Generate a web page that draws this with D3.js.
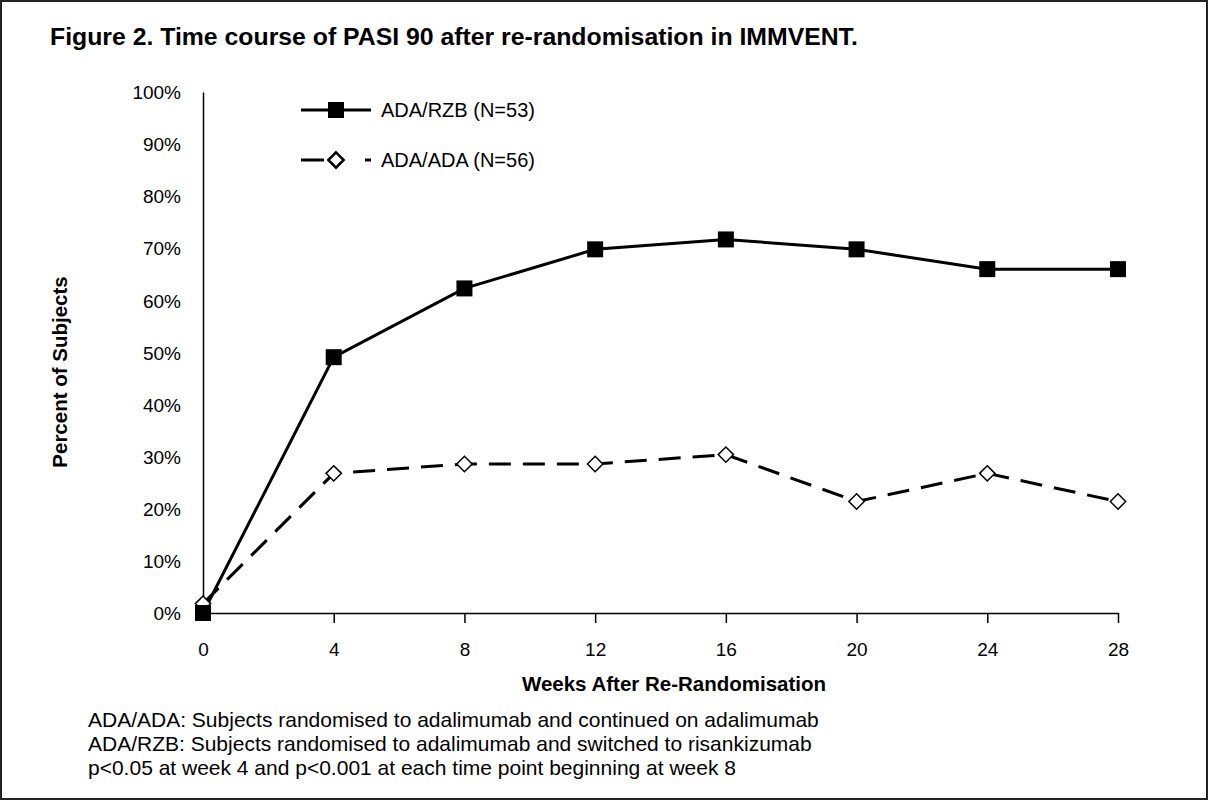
<!DOCTYPE html>
<html>
<head>
<meta charset="utf-8">
<script src="https://cdn.jsdelivr.net/npm/d3@7"></script>
<style>
  body { margin: 0; background: #fff; }
  text { font-family: "Liberation Sans", Arial, Helvetica, sans-serif; fill: #000; }
</style>
</head>
<body>
<div id="chart"></div>
<script>
// data
let weeks = [0, 4, 8, 12, 16, 20, 24, 28]
let rzbValues = [0, 49.1, 62.3, 69.8, 71.7, 69.8, 66.0, 66.0]
let adaValues = [1.8, 26.8, 28.6, 28.6, 30.4, 21.4, 26.8, 21.4]
let yTicks = [0, 10, 20, 30, 40, 50, 60, 70, 80, 90, 100]
let seriesNames = ["ADA/RZB (N=53)", "ADA/ADA (N=56)"]
let footnotes = [
  "ADA/ADA: Subjects randomised to adalimumab and continued on adalimumab",
  "ADA/RZB: Subjects randomised to adalimumab and switched to risankizumab",
  "p<0.05 at week 4 and p<0.001 at each time point beginning at week 8"
]

let w = 1208, h = 800
let plotLeft = 203, plotRight = 1118, plotTop = 92, plotBottom = 613

let svg = d3.select("#chart").append("svg")
            .attr("width", w)
            .attr("height", h)

// outer frame
svg.append("rect")
   .attr("x", 1).attr("y", 1)
   .attr("width", w - 2).attr("height", h - 2)
   .attr("fill", "none").attr("stroke", "#222").attr("stroke-width", 2)

svg.append("text")
   .attr("x", 50).attr("y", 45)
   .attr("font-size", 24.8).attr("font-weight", "bold")
   .text("Figure 2. Time course of PASI 90 after re-randomisation in IMMVENT.")

let x = d3.scaleLinear().domain([0, 28]).range([plotLeft, plotRight])
let y = d3.scaleLinear().domain([0, 100]).range([plotBottom, plotTop])

// x axis, ticks pointing down, no tick at 0
let xAxis = d3.axisBottom(x).tickValues(weeks).tickSize(10).tickSizeOuter(0)
let gx = svg.append("g").attr("transform", "translate(0," + plotBottom + ")").call(xAxis)
gx.select(".domain").attr("stroke", "#000").attr("stroke-width", 1.5)
gx.selectAll(".tick line").attr("stroke", "#000").attr("stroke-width", 1.5)
  .filter(d => d === 0).remove()
gx.selectAll(".tick text")
  .attr("font-size", 19).attr("font-family", "Liberation Sans, Arial, sans-serif")
  .attr("dy", 0).attr("y", 43)

// y axis, line only
let yAxis = d3.axisLeft(y).tickValues(yTicks).tickSize(0).tickFormat(d => d + "%")
let gy = svg.append("g").attr("transform", "translate(" + plotLeft + ",0)").call(yAxis)
gy.select(".domain").attr("stroke", "#000").attr("stroke-width", 1.5)
gy.selectAll(".tick text")
  .attr("font-size", 19).attr("font-family", "Liberation Sans, Arial, sans-serif")
  .attr("x", -22).attr("dy", "0.35em")

svg.append("text")
   .attr("transform", "translate(67,372) rotate(-90)")
   .attr("text-anchor", "middle")
   .attr("font-size", 20.5).attr("font-weight", "bold")
   .text("Percent of Subjects")

svg.append("text")
   .attr("x", 674).attr("y", 691)
   .attr("text-anchor", "middle")
   .attr("font-size", 20.5).attr("font-weight", "bold")
   .text("Weeks After Re-Randomisation")

let line = d3.line().x(d => x(d[0])).y(d => y(d[1]))
let rzb = weeks.map((wk, i) => [wk, rzbValues[i]])
let ada = weeks.map((wk, i) => [wk, adaValues[i]])

svg.append("path")
   .attr("d", line(ada))
   .attr("fill", "none").attr("stroke", "#000")
   .attr("stroke-width", 3).attr("stroke-dasharray", "22,12")

svg.append("path")
   .attr("d", line(rzb))
   .attr("fill", "none").attr("stroke", "#000").attr("stroke-width", 3)

let square = d3.symbol().type(d3.symbolSquare).size(256)
let diamond = d3.symbol().type(d3.symbolDiamond2).size(150)

svg.selectAll("path.ada")
   .data(ada).enter().append("path")
   .attr("class", "ada")
   .attr("d", diamond)
   .attr("transform", d => "translate(" + x(d[0]) + "," + y(d[1]) + ")")
   .attr("fill", "#fff").attr("stroke", "#000").attr("stroke-width", 1.5)

svg.selectAll("path.rzb")
   .data(rzb).enter().append("path")
   .attr("class", "rzb")
   .attr("d", square)
   .attr("transform", d => "translate(" + x(d[0]) + "," + y(d[1]) + ")")
   .attr("fill", "#000")

// legend
let lg = svg.append("g")
lg.append("line").attr("x1", 301).attr("x2", 371).attr("y1", 110).attr("y2", 110)
  .attr("stroke", "#000").attr("stroke-width", 3)
lg.append("path").attr("d", square).attr("transform", "translate(336,110)").attr("fill", "#000")
lg.append("line").attr("x1", 301).attr("x2", 324).attr("y1", 160).attr("y2", 160)
  .attr("stroke", "#000").attr("stroke-width", 3)
lg.append("line").attr("x1", 365).attr("x2", 371).attr("y1", 160).attr("y2", 160)
  .attr("stroke", "#000").attr("stroke-width", 3)
lg.append("path").attr("d", diamond).attr("transform", "translate(336,160)")
  .attr("fill", "#fff").attr("stroke", "#000").attr("stroke-width", 2.5)
lg.selectAll("text")
  .data(seriesNames).enter().append("text")
  .attr("x", 381).attr("y", (d, i) => 110 + i * 50)
  .attr("dy", "0.35em")
  .attr("font-size", 20)
  .text(d => d)

svg.selectAll("text.note")
   .data(footnotes).enter().append("text")
   .attr("class", "note")
   .attr("x", 88).attr("y", (d, i) => 727 + i * 24)
   .attr("font-size", 21)
   .text(d => d)
</script>
</body>
</html>
